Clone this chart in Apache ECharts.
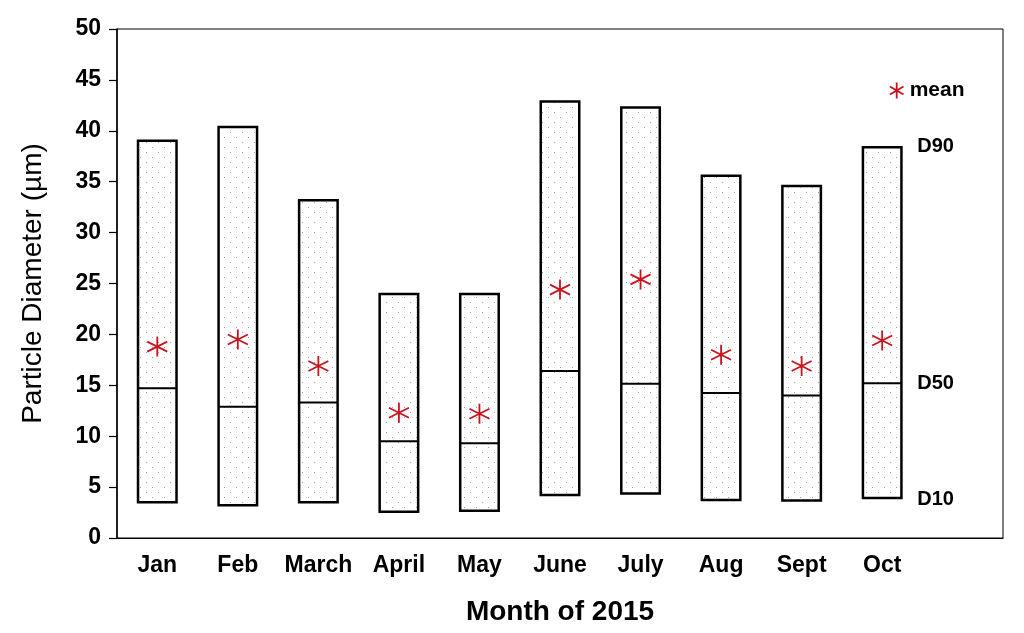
<!DOCTYPE html>
<html>
<head>
<meta charset="utf-8">
<script src="https://cdn.jsdelivr.net/npm/echarts@6/dist/echarts.min.js"></script>
<style>
html,body{margin:0;padding:0;background:#fff;}
#chart{width:1024px;height:633px;}
</style>
</head>
<body>
<div id="chart"></div>
<script>
const months = ['Jan','Feb','March','April','May','June','July','Aug','Sept','Oct',''];
const d10 = [3.4, 3.1, 3.4, 2.45, 2.55, 4.1, 4.25, 3.6, 3.55, 3.8, null];
const d50 = [14.7, 12.9, 13.3, 9.5, 9.3, 16.4, 15.15, 14.25, 14.0, 15.2, null];
const d90 = [39.15, 40.5, 33.3, 24.1, 24.1, 43.0, 42.4, 35.7, 34.7, 38.5, null];
const meanVals = [18.8, 19.5, 16.9, 12.3, 12.2, 24.4, 25.4, 18.0, 16.9, 19.4, null];
const yTicks = [0, 5, 10, 15, 20, 25, 30, 35, 40, 45, 50];
const dLabels = ['D90', 'D50', 'D10'];

// dotted fill pattern
const pc = document.createElement('canvas');
pc.width = 12; pc.height = 10;
const pctx = pc.getContext('2d');
pctx.fillStyle = '#ffffff';
pctx.fillRect(0, 0, 12, 10);
pctx.fillStyle = '#a0a0a0';
pctx.fillRect(2, 2, 1, 1);
pctx.fillRect(8, 7, 1, 1);
const dotFill = { image: pc, repeat: 'repeat' };

const bodySeg = d90.map((v, i) => v == null ? '-' : +(v - d10[i]).toFixed(3));
const baseSeg = d10.map(v => v == null ? '-' : v);

const last = 9;
const labelPts = [
  { value: [last, d90[last]], name: dLabels[0] },
  { value: [last, d50[last]], name: dLabels[1] },
  { value: [last, d10[last]], name: dLabels[2] }
];

const asterisk = 'path://M10,0 L10,20 M1.5,5 L18.5,15 M1.5,15 L18.5,5';
const fontF = '"Liberation Sans", Arial, sans-serif';
const red = '#c8141e';

const chart = echarts.init(document.getElementById('chart'), null, { renderer: 'canvas' });
chart.setOption({
  animation: false,
  backgroundColor: '#ffffff',
  textStyle: { fontFamily: fontF },
  grid: {
    left: 117, right: 21, top: 29, bottom: 95,
    show: true, borderColor: '#000', borderWidth: 1, backgroundColor: '#fff'
  },
  legend: {
    data: ['mean'],
    left: 884, top: 75,
    itemWidth: 16, itemHeight: 16, itemGap: 4,
    icon: asterisk,
    textStyle: { fontSize: 21, fontWeight: 'bold', color: '#000', fontFamily: fontF },
    itemStyle: { color: 'transparent', borderColor: red, borderWidth: 1.8 }
  },
  xAxis: {
    type: 'category',
    data: months,
    boundaryGap: true,
    axisLine: { lineStyle: { color: '#000', width: 1 } },
    axisTick: { alignWithLabel: true, length: 6, lineStyle: { color: '#000' } },
    axisLabel: { color: '#000', fontSize: 23, fontWeight: 'bold', margin: 16, interval: 0, fontFamily: fontF },
    name: 'Month of 2015',
    nameLocation: 'middle',
    nameGap: 60,
    nameTextStyle: { fontSize: 28, fontWeight: 'bold', color: '#000', fontFamily: fontF }
  },
  yAxis: {
    type: 'value',
    min: yTicks[0], max: yTicks[yTicks.length - 1], interval: 5,
    axisLine: { show: true, lineStyle: { color: '#000', width: 1.5 } },
    axisTick: { show: true, inside: false, length: 8, lineStyle: { color: '#000', width: 1.2 } },
    axisLabel: { color: '#000', fontSize: 23, fontWeight: 'bold', margin: 16, fontFamily: fontF },
    splitLine: { show: false },
    name: 'Particle Diameter (µm)',
    nameLocation: 'middle',
    nameGap: 70,
    nameTextStyle: { fontSize: 28, color: '#000', fontFamily: fontF }
  },
  series: [
    {
      name: 'base', type: 'bar', stack: 'p', barWidth: 41,
      data: baseSeg,
      itemStyle: { color: 'transparent', borderWidth: 0 },
      silent: true
    },
    {
      name: 'body', type: 'bar', stack: 'p', barWidth: 41,
      data: bodySeg,
      itemStyle: { color: dotFill, borderColor: '#000', borderWidth: 2.5 }
    },
    {
      name: 'median', type: 'scatter',
      data: d50.map(v => v == null ? '-' : v),
      symbol: 'rect', symbolSize: [38, 2],
      itemStyle: { color: '#000', opacity: 1 },
      z: 4, silent: true
    },
    {
      name: 'mean', type: 'scatter',
      data: meanVals.map(v => v == null ? '-' : v),
      symbol: asterisk, symbolSize: [20, 20],
      itemStyle: { color: 'transparent', borderColor: red, borderWidth: 1.8, opacity: 1 },
      z: 5
    },
    {
      name: 'dlabels', type: 'scatter',
      data: labelPts,
      symbolSize: 0.01,
      itemStyle: { color: '#000', opacity: 1 },
      label: {
        show: true, position: 'right', distance: 35,
        formatter: p => p.name,
        color: '#000', fontSize: 20, fontWeight: 'bold', fontFamily: fontF, opacity: 1
      },
      silent: true
    }
  ]
});
</script>
</body>
</html>
